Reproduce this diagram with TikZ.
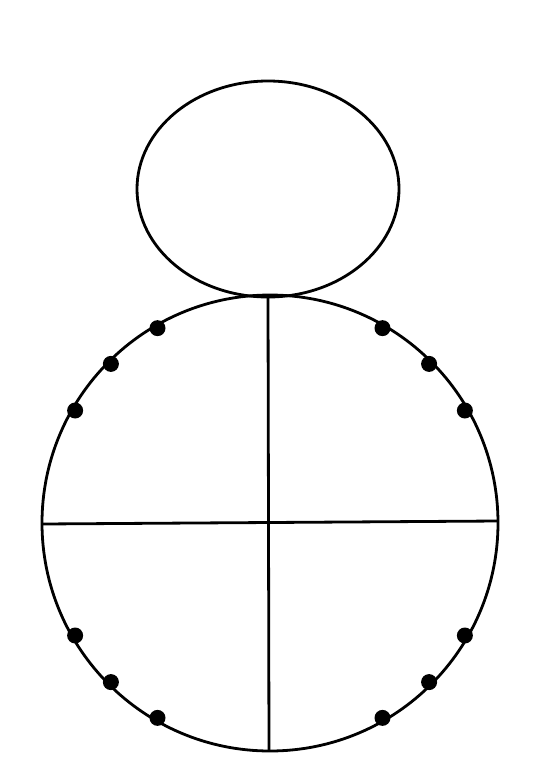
\documentclass[tikz,border=0pt]{standalone}
\usetikzlibrary{shapes.geometric,calc}
\begin{document}
\begin{tikzpicture}[x=1pt,y=-1pt,
  outline/.style={line width=2.8pt,draw=black},
  bead/.style={circle,fill=black,inner sep=0pt,minimum size=16pt}]
\useasboundingbox (0,0) rectangle (556,780);
\coordinate (c) at (270,523);
\node[outline,ellipse,minimum width=262pt,minimum height=216pt,inner sep=0pt] (head) at (268,189) {};
\draw[outline] (c) circle (228);
\coordinate (top) at (268,295);
\coordinate (bot) at (269,751);
\coordinate (lft) at (42,524);
\coordinate (rgt) at (498,521);
\draw[outline] (top) -- (bot);
\draw[outline] (lft) -- (rgt);
\foreach \a in {30,45,60,120,135,150,210,225,240,300,315,330}
  \node[bead] (b\a) at ($(c)+(\a:225)$) {};
\end{tikzpicture}
\end{document}
